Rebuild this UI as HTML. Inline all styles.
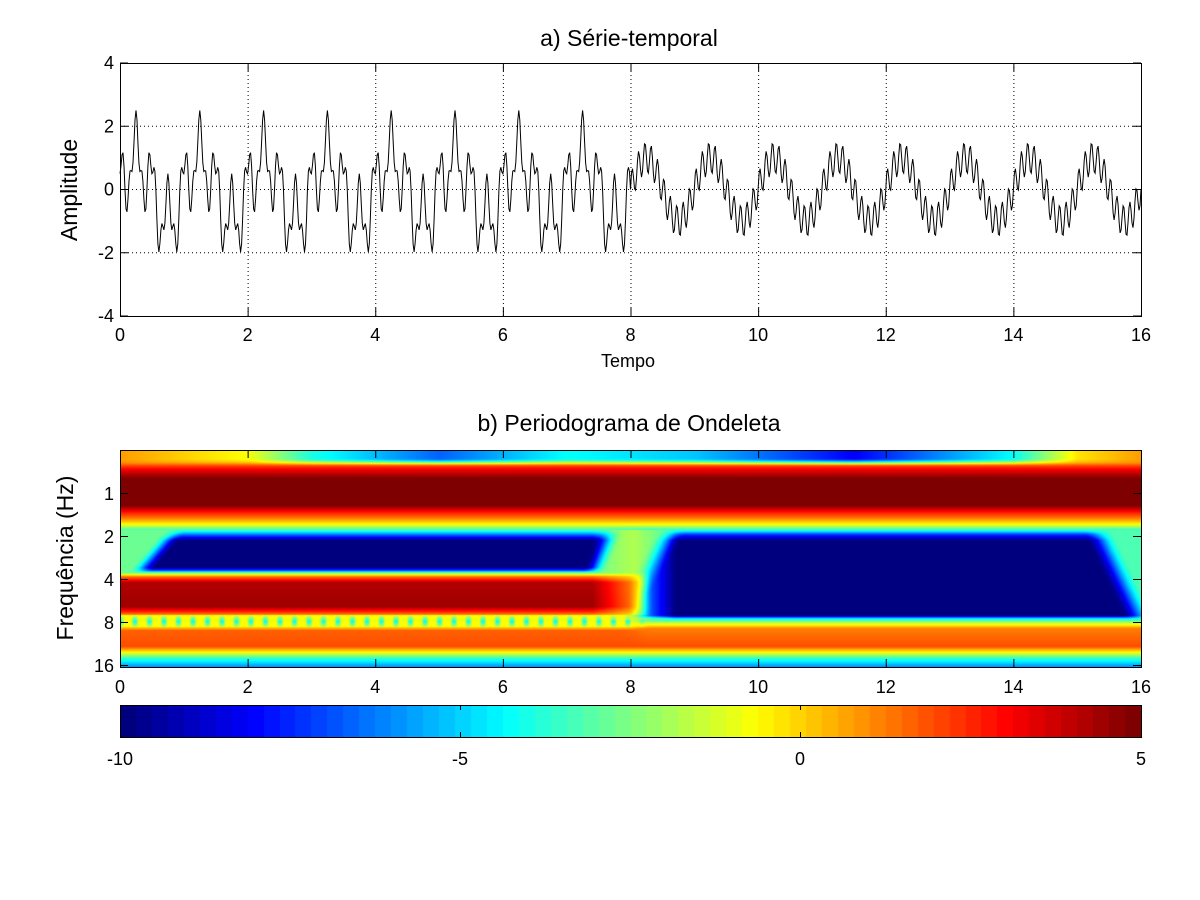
<!DOCTYPE html>
<html><head><meta charset="utf-8"><style>
body{margin:0;background:#fff;width:1200px;height:900px;overflow:hidden;position:relative;font-family:"Liberation Sans",sans-serif}
#hm{position:absolute;left:120px;top:450px}
#cb{position:absolute;left:120px;top:705px}
svg{position:absolute;left:0;top:0}
</style></head><body>
<canvas id="hm" width="1021" height="217"></canvas>
<canvas id="cb" width="1021" height="32"></canvas>
<svg id="s" width="1200" height="900" font-family="Liberation Sans, sans-serif"></svg>
<script>
function jet(c){c=Math.max(0,Math.min(1,c));
 function f(x){return Math.max(0,Math.min(1,x));}
 var r=f(1.5-Math.abs(4*c-3)),g=f(1.5-Math.abs(4*c-2)),b=f(1.5-Math.abs(4*c-1));
 return [r*255|0,g*255|0,b*255|0];}
function lerpP(p,y){if(y<=p[0][0])return p[0][1];for(var i=1;i<p.length;i++){if(y<=p[i][0]){var a=p[i-1],b=p[i];return a[1]+(b[1]-a[1])*(y-a[0])/(b[0]-a[0]);}}return p[p.length-1][1];}
var common=[[450,0.7],[462,0.75],[470,0.9],[478,1],[505,1],[512,0.85],[518,0.75],[524,0.62]];
var L=common.concat([[530,0.42],[535,0.2],[540,0],[567,0],[570,0.2],[572,0.45],[576,0.75],[582,0.95],[606,0.97],[612,0.82],[618,0.6],[625,0.6],[630,0.78],[646,0.8],[652,0.62],[658,0.42],[667,0.25]]);
var R=common.concat([[530,0.4],[534,0.18],[540,0],[615,0],[618,0.35],[622,0.55],[628,0.75],[646,0.8],[652,0.62],[658,0.42],[667,0.25]]);
var topP=[[0,0.72],[2,0.62],[3,0.4],[5,0.22],[7,0.38],[9,0.32],[11.5,0.12],[14,0.38],[15,0.65],[16,0.72]];
function sm(e0,e1,x){var t=Math.max(0,Math.min(1,(x-e0)/(e1-e0)));return t*t*(3-2*t);}
var hc=document.getElementById('hm').getContext('2d');var im=hc.createImageData(1021,217);
for(var py=0;py<217;py++){var y=450+py;
 for(var px=0;px<1021;px++){var t=px/63.8;var c;
  var cl=lerpP(L,y),cr=lerpP(R,y);
  if(y>=530&&y<=572){var a=1.0-(y-535)/33*0.45,b=7.5-(y-535)/33*0.25;
   var inside=sm(a-0.4,a,t)*(1-sm(b,b+0.4,t));cl=0.48*(1-inside)+cl*inside;}
  if(y>=530&&y<=620){var a2=8.85-(y-535)/80*0.75,b2=15.1+(y-535)/80*0.6;
   var ins2=sm(a2-0.5,a2,t)*(1-sm(b2,b2+0.5,t));cr=0.45*(1-ins2)+cr*ins2;}
  if(y>=615&&y<627){cl=0.62-0.25*Math.max(0,Math.cos(2*Math.PI*t*4.4))*(1-Math.abs(y-621)/7);}
  var w=sm(7.85,8.35,t);
  if(y>=572&&y<615){w=sm(7.95,8.35,t);}
  c=cl*(1-w)+cr*w;
  if(y>=530&&y<620&&t>7.3&&t<8.7){var m=Math.max(0,1-Math.abs(t-8.05)/0.65);c=c*(1-0.6*m)+0.6*0.6*m;}
  if(y<466){var tp=lerpP(topP,t);var k=sm(458,466,y);c=tp*(1-k)+c*k;}
  var col=jet(c);var i=(py*1021+px)*4;im.data[i]=col[0];im.data[i+1]=col[1];im.data[i+2]=col[2];im.data[i+3]=255;}}
hc.putImageData(im,0,0);
var cc=document.getElementById('cb').getContext('2d');
for(var k=0;k<64;k++){var col=jet(k/63);cc.fillStyle='rgb('+col+')';var x0=Math.round(k*1021/64),x1=Math.round((k+1)*1021/64);cc.fillRect(x0,0,x1-x0,32);}
var s='';
function ln(x1,y1,x2,y2,ex){s+='<line x1="'+x1+'" y1="'+y1+'" x2="'+x2+'" y2="'+y2+'" stroke="#000" stroke-width="1" '+(ex||'')+'/>';}
function tx(x,y,t,sz,anc,ex){s+='<text x="'+x+'" y="'+y+'" font-size="'+sz+'" text-anchor="'+(anc||'middle')+'" '+(ex||'')+'>'+t+'</text>';}
var X0=120,X1=1141,T0=63,T1=316;
function X(t){return X0+t*(X1-X0)/16;}
function Y(v){return 189.5-v*(T1-T0)/8;}
for(var t=2;t<16;t+=2){ln(X(t)+.5,T0,X(t)+.5,T1,'stroke-dasharray="1,3"');}
for(var v=-2;v<=2;v+=2){ln(X0,Y(v),X1,Y(v),'stroke-dasharray="1,3"');}
var pts=[];for(var n=0;n<=1024;n++){var t=n/64;var v;
 if(t<8)v=Math.sin(2*Math.PI*t)+Math.cos(8*Math.PI*t)-0.5*Math.cos(20*Math.PI*t);
 else v=Math.sin(2*Math.PI*t)+0.5*Math.sin(20*Math.PI*t);
 pts.push(X(t).toFixed(1)+','+Y(v).toFixed(1));}
s+='<polyline points="'+pts.join(' ')+'" fill="none" stroke="#000" stroke-width="1"/>';
s+='<rect x="'+(X0+.5)+'" y="'+(T0+.5)+'" width="'+(X1-X0)+'" height="'+(T1-T0)+'" fill="none" stroke="#000"/>';
for(var t=0;t<=16;t+=2){ln(X(t)+.5,T1,X(t)+.5,T1-8);ln(X(t)+.5,T0,X(t)+.5,T0+8);tx(X(t),T1+25,t,18);}
for(var v=-4;v<=4;v+=2){ln(X0,Y(v),X0+8,Y(v));ln(X1,Y(v),X1-8,Y(v));tx(X0-6,Y(v)+6,v,18,'end');}
tx(629,46,'a) Série-temporal',23);
tx(628,367,'Tempo',18);
tx(77,190,'Amplitude',23,'middle','transform="rotate(-90 77 190)"');
var H0=450,H1=667;
s+='<rect x="'+(X0+.5)+'" y="'+(H0+.5)+'" width="'+(X1-X0)+'" height="'+(H1-H0)+'" fill="none" stroke="#000"/>';
for(var t=0;t<=16;t+=2){ln(X(t)+.5,H1,X(t)+.5,H1-8);ln(X(t)+.5,H0,X(t)+.5,H0+8);tx(X(t),H1+26,t,18);}
var fy=[[1,493],[2,536],[4,579],[8,622],[16,665]];
fy.forEach(function(p){ln(X0,p[1]+.5,X0+8,p[1]+.5);ln(X1,p[1]+.5,X1-8,p[1]+.5);tx(X0-6,p[1]+7,p[0],18,'end');});
tx(629,431,'b) Periodograma de Ondeleta',23);
tx(73,558,'Frequência (Hz)',23,'middle','transform="rotate(-90 73 558)"');
s+='<rect x="'+(X0+.5)+'" y="705.5" width="'+(X1-X0)+'" height="32" fill="none" stroke="#000"/>';
[[-10,120],[-5,460],[0,800],[5,1141]].forEach(function(p){ln(p[1]+.5,705,p[1]+.5,710);ln(p[1]+.5,737,p[1]+.5,732);tx(p[1],765,p[0],18);});
document.getElementById('s').innerHTML=s;
</script>
</body></html>
